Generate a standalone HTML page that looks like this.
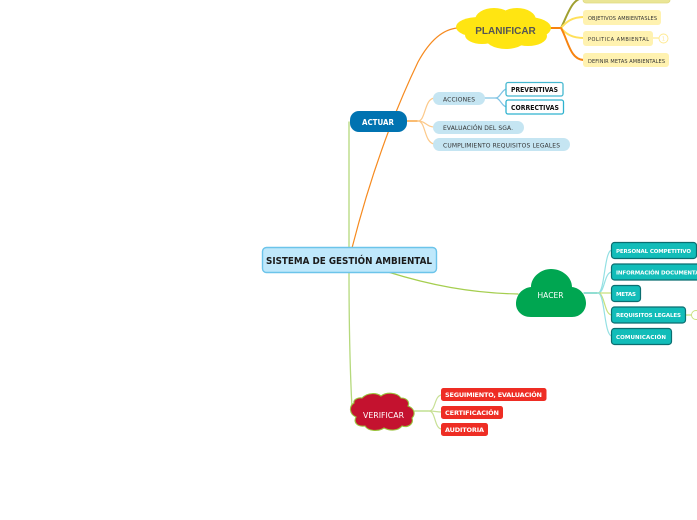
<!DOCTYPE html>
<html>
<head>
<meta charset="utf-8">
<style>
html,body{margin:0;padding:0;background:#fff;width:697px;height:520px;overflow:hidden}
svg{display:block}
text{font-family:"DejaVu Sans",sans-serif}
</style>
</head>
<body>
<svg width="697" height="520" viewBox="0 0 697 520" xmlns="http://www.w3.org/2000/svg">
<g fill="none" stroke-linecap="round">
<path d="M349 250V122" stroke="#b5d97c" stroke-width="1.300"/>
<path d="M349 270C349 330 350 370 352 408" stroke="#b5d97c" stroke-width="1.300"/>
<path d="M352 248C372 170 395 110 418 62C430 40 443 29 458 28" stroke="#f68a1f" stroke-width="1.200"/>
<path d="M388 272C430 285 470 293 518 294" stroke="#a5ce4f" stroke-width="1.200"/>
<path d="M405 121H418" stroke="#f8931d" stroke-width="1.200"/>
<path d="M418 121C426 121 424 98 435 98" stroke="#fcc98a" stroke-width="1.200"/>
<path d="M418 121C426 121 426 127 435 127" stroke="#fcc98a" stroke-width="1.200"/>
<path d="M418 121C426 121 424 144 435 144" stroke="#fcc98a" stroke-width="1.200"/>
<path d="M484 98H496" stroke="#7fc3e4" stroke-width="1.200"/>
<path d="M496 98C500 98 502 89 507 89" stroke="#7fc3e4" stroke-width="1.200"/>
<path d="M496 98C500 98 502 107 507 107" stroke="#7fc3e4" stroke-width="1.200"/>
<path d="M550 28H561" stroke="#f7830f" stroke-width="2"/>
<path d="M561 28C568 14 572 -2 584 -2" stroke="#a0a030" stroke-width="2"/>
<path d="M561 28C566 22 572 17 584 17" stroke="#ffe05a" stroke-width="2"/>
<path d="M561 28C566 34 572 38 584 38" stroke="#ffe05a" stroke-width="2"/>
<path d="M561 28C568 40 570 60 584 60" stroke="#f7830f" stroke-width="2"/>
<path d="M653 38H659" stroke="#ffe98f" stroke-width="1.200"/>
<path d="M584 293H598" stroke="#4fcbb8" stroke-width="1.200"/>
<path d="M598 293C605 293 604 250 612 250" stroke="#93e0e3" stroke-width="1.200"/>
<path d="M598 293C605 293 604 272 612 272" stroke="#93e0e3" stroke-width="1.200"/>
<path d="M598 293H612" stroke="#c8e17c" stroke-width="1.200"/>
<path d="M598 293C605 293 604 315 612 315" stroke="#c8e17c" stroke-width="1.200"/>
<path d="M598 293C605 293 604 336 612 336" stroke="#93e0e3" stroke-width="1.200"/>
<path d="M685 315H691" stroke="#c8e17c" stroke-width="1.200"/>
<path d="M413 411H429" stroke="#b5d97c" stroke-width="1.200"/>
<path d="M429 411C436 411 434 395 442 395" stroke="#c8e096" stroke-width="1.200"/>
<path d="M429 411C435 411 436 412 442 412" stroke="#c8e096" stroke-width="1.200"/>
<path d="M429 411C436 411 434 429 442 429" stroke="#c8e096" stroke-width="1.200"/>
</g>

<!-- Root -->
<rect x="262.500" y="247.500" width="174" height="25" rx="4" fill="#bfe8fb" stroke="#6cc4ea" stroke-width="1.400"/>
<text x="266" y="264" font-size="10" font-weight="700" fill="#1a1a1a" textLength="166" lengthAdjust="spacingAndGlyphs">SISTEMA DE GESTIÓN AMBIENTAL</text>

<!-- Actuar -->
<rect x="350" y="111" width="57" height="21" rx="9" fill="#0073b1"/>
<text x="362" y="125" font-size="8" font-weight="700" fill="#fff" textLength="32" lengthAdjust="spacingAndGlyphs">ACTUAR</text>
<rect x="433" y="92" width="52" height="13" rx="6.500" fill="#c5e5f2"/>
<text x="443" y="101.500" font-size="6" fill="#333" textLength="32" lengthAdjust="spacing">ACCIONES</text>
<rect x="433" y="121" width="91" height="13" rx="6.500" fill="#c5e5f2"/>
<text x="443" y="130" font-size="6" fill="#333" textLength="70" lengthAdjust="spacing">EVALUACIÓN DEL SGA.</text>
<rect x="433" y="138" width="137" height="13" rx="6.500" fill="#c5e5f2"/>
<text x="443" y="147.500" font-size="6" fill="#333" textLength="117" lengthAdjust="spacing">CUMPLIMIENTO REQUISITOS LEGALES</text>
<rect x="506" y="82.500" width="57" height="13.500" rx="2" fill="#fff" stroke="#45b8d0" stroke-width="1.300"/>
<text x="511" y="92" font-size="7" font-weight="700" fill="#111" textLength="47" lengthAdjust="spacingAndGlyphs">PREVENTIVAS</text>
<rect x="506" y="100" width="57.500" height="14" rx="2" fill="#fff" stroke="#2fb2cf" stroke-width="1.300"/>
<text x="511" y="110" font-size="7" font-weight="700" fill="#111" textLength="48" lengthAdjust="spacingAndGlyphs">CORRECTIVAS</text>

<!-- Planificar -->
<g fill="#ffe512">
<ellipse cx="479" cy="27" rx="23" ry="10"/>
<ellipse cx="494" cy="20" rx="19" ry="12"/>
<ellipse cx="517" cy="20" rx="19" ry="12"/>
<ellipse cx="528" cy="28" rx="23" ry="11"/>
<ellipse cx="482" cy="35" rx="17" ry="9"/>
<ellipse cx="506" cy="36" rx="22" ry="13"/>
<ellipse cx="528" cy="36" rx="19" ry="10"/>
</g>
<text x="505.500" y="34" font-size="10" font-weight="700" fill="#555" text-anchor="middle" style="font-family:'Liberation Sans',sans-serif">PLANIFICAR</text>
<g>
<rect x="583" y="-12" width="87" height="15" rx="3" fill="#eae596" stroke="#e0da80" stroke-width="0.800"/>
<rect x="583" y="10" width="78" height="15" rx="3" fill="#fff2b0"/>
<text x="588" y="20" font-size="5" fill="#333" textLength="69" lengthAdjust="spacing">OBJETIVOS AMBIENTASLES</text>
<rect x="583" y="31" width="70" height="15" rx="3" fill="#fff2b0"/>
<text x="588" y="41" font-size="5" fill="#333" textLength="61" lengthAdjust="spacing">POLITICA AMBIENTAL</text>
<rect x="583" y="53" width="86" height="14" rx="3" fill="#fff2b0"/>
<text x="588" y="63" font-size="5" fill="#333" textLength="77" lengthAdjust="spacing">DEFINIR METAS AMBIENTALES</text>
<circle cx="663.500" cy="38.500" r="4.500" fill="#fff" stroke="#ffe98f" stroke-width="0.900"/>
<text x="663.500" y="40.500" font-size="5" fill="#ffe98f" text-anchor="middle">1</text>
</g>

<!-- Hacer -->
<path d="M531 317C521 317 516 310 516 304C516 295 522 288 531 287C531 277 541 269 551 269C562 269 572 277 572 287C581 288 586 296 586 303C586 311 580 317 572 317Z" fill="#00a651"/>
<text x="550.500" y="298" font-size="8" fill="#fff" text-anchor="middle" textLength="26" lengthAdjust="spacingAndGlyphs">HACER</text>
<g fill="#12bdb9" stroke="#0b6e70" stroke-width="1.200">
<rect x="611.500" y="242.500" width="85" height="16" rx="3"/>
<rect x="611.500" y="264" width="95" height="16" rx="3"/>
<rect x="611.500" y="285.500" width="29" height="16" rx="3"/>
<rect x="611.500" y="307" width="74" height="16" rx="3"/>
<rect x="611.500" y="328.500" width="60" height="16" rx="3"/>
</g>
<g font-size="5.500" font-weight="700" fill="#fff">
<text x="616" y="253" textLength="75" lengthAdjust="spacing">PERSONAL COMPETITIVO</text>
<text x="616" y="274.500" textLength="92" lengthAdjust="spacing">INFORMACIÓN DOCUMENTADA</text>
<text x="616" y="296" textLength="20" lengthAdjust="spacing">METAS</text>
<text x="616" y="317" textLength="65" lengthAdjust="spacing">REQUISITOS LEGALES</text>
<text x="616" y="339" textLength="50" lengthAdjust="spacing">COMUNICACIÓN</text>
</g>
<circle cx="696" cy="315" r="4.500" fill="#fff" stroke="#c8e17c" stroke-width="0.900"/>

<!-- Verificar -->
<path d="M362 398C368 392 377 393 381 396C386 392 397 392 401 398C407 398 410 402 408 406C414 408 416 414 412 418C414 424 408 428 402 426C398 431 390 431 384 428C378 432 368 431 365 426C358 427 353 423 356 417C349 414 349 406 354 403C353 400 358 397 362 398Z" fill="#c4122f" stroke="#9ac23c" stroke-width="1.100"/>
<text x="383.500" y="418" font-size="8" fill="#fff" text-anchor="middle" textLength="41" lengthAdjust="spacingAndGlyphs">VERIFICAR</text>
<g fill="#ee2d24">
<rect x="441" y="388" width="105.500" height="13" rx="2.500"/>
<rect x="441" y="406" width="62" height="13" rx="2.500"/>
<rect x="441" y="423" width="47" height="13" rx="2.500"/>
</g>
<g font-size="6.500" font-weight="700" fill="#fff">
<text x="445" y="397" textLength="97" lengthAdjust="spacing">SEGUIMIENTO, EVALUACIÓN</text>
<text x="445" y="415" textLength="54" lengthAdjust="spacing">CERTIFICACIÓN</text>
<text x="445" y="432" textLength="39" lengthAdjust="spacing">AUDITORIA</text>
</g>
</svg>
</body>
</html>
